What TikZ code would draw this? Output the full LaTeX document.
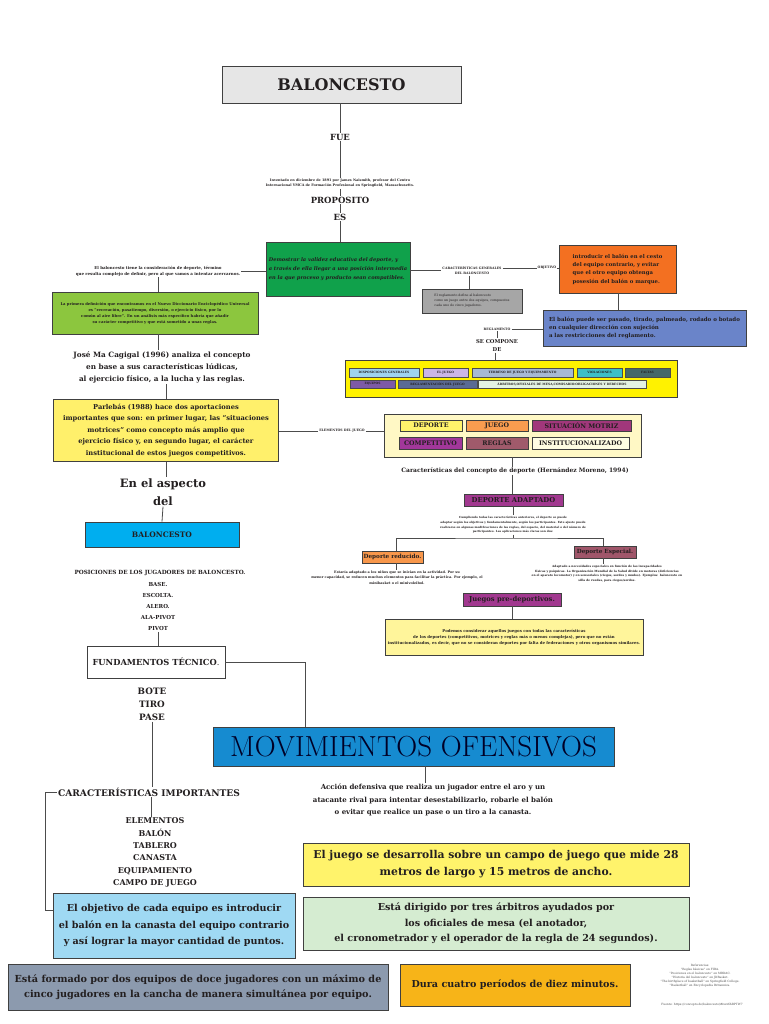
\documentclass[tikz,border=0pt]{standalone}
\usepackage{fontspec}
\setmainfont{DejaVu Serif}
\newfontfamily\lmr{Latin Modern Roman}
\newcommand\myfs[2]{\fontsize{#1}{#2}\selectfont}
\definecolor{tgray}{HTML}{E6E6E6}
\definecolor{greenA}{HTML}{10A14B}
\definecolor{limeA}{HTML}{8CC63E}
\definecolor{parlY}{HTML}{FFF06B}
\definecolor{cyanA}{HTML}{00AEEF}
\definecolor{movB}{HTML}{168BD0}
\definecolor{lblue}{HTML}{9FD9F3}
\definecolor{yelB}{HTML}{FFF36B}
\definecolor{grnB}{HTML}{D5ECD1}
\definecolor{gboxC}{HTML}{8C9AAE}
\definecolor{oboxC}{HTML}{F7B418}
\definecolor{orngC}{HTML}{F37021}
\definecolor{grayC}{HTML}{A6A6A6}
\definecolor{blueC}{HTML}{6A84C9}
\definecolor{yelC}{HTML}{FFF200}
\definecolor{bA}{HTML}{9FD3EF}
\definecolor{bB}{HTML}{CBB6E6}
\definecolor{bC}{HTML}{A7B9D3}
\definecolor{bD}{HTML}{3DBFC6}
\definecolor{bE}{HTML}{456868}
\definecolor{bF}{HTML}{7D5AA6}
\definecolor{bG}{HTML}{5A6A94}
\definecolor{bH}{HTML}{E4F3E4}
\definecolor{elemC}{HTML}{FFF8C5}
\definecolor{eJ}{HTML}{F99C4F}
\definecolor{eS}{HTML}{A1377B}
\definecolor{eC}{HTML}{A2379A}
\definecolor{eR}{HTML}{A05A6B}
\definecolor{eI}{HTML}{FFFDE2}
\definecolor{daC}{HTML}{A1388F}
\definecolor{drC}{HTML}{F8974B}
\definecolor{deC}{HTML}{A0566A}
\definecolor{podC}{HTML}{FFF59B}
\definecolor{ink}{HTML}{231F20}
\begin{document}
\begin{tikzpicture}[x=1pt,y=-1pt,
  box/.style={draw=black!75, line width=0.8pt, inner sep=1pt, align=center, text=ink, font=\bfseries},
  sbox/.style={draw=black!70, line width=0.6pt, inner sep=0.5pt, align=center, text=ink, font=\myfs{3}{4}\bfseries},
  ebox/.style={draw=black!75, line width=0.7pt, inner sep=0.5pt, align=center, text=ink, font=\myfs{6.3}{7}\bfseries},
  txt/.style={align=center, inner sep=1pt, text=ink},
  ln/.style={draw=black!70, line width=0.8pt}]
\useasboundingbox (0,0) rectangle (768,1024);
\fill[white] (0,0) rectangle (768,1024);

% ---- top spine
\node[box, fill=tgray, minimum width=239pt, minimum height=37pt, font=\myfs{16}{18}\bfseries] (title) at (341.5,84.5) {BALONCESTO};
\node[txt, font=\myfs{8.5}{10}\bfseries] (fue) at (340,137) {FUE};
\node[txt, font=\myfs{3.4}{5}\bfseries] (inv) at (340,183.5) {Inventado en diciembre de 1891 por James Naismith, profesor del Centro\\Internacional YMCA de Formación Profesional en Springfield, Massachusetts.};
\node[txt, font=\myfs{8.5}{10}\bfseries] (prop) at (340,200) {PROPOSITO};
\node[txt, font=\myfs{8.5}{10}\bfseries] (es) at (340,217) {ES};
\node[box, fill=greenA, minimum width=144pt, minimum height=54pt, align=left, font=\myfs{5.1}{9}\bfseries\itshape] (green) at (338,269) {Demostrar la validez educativa del deporte, y\\a través de ella  llegar a una posición intermedia\\en la que proceso y producto sean compatibles.};
\draw[ln] (title.south -| fue.north) -- (fue.north);
\draw[ln] (fue.south) -- (inv.north);
\draw[ln] (inv.south) -- (prop.north);
\draw[ln] (prop.south) -- (es.north);
\draw[ln] (es.south) -- (green.north -| es.south);

% ---- left column
\node[txt, font=\myfs{4}{6}\bfseries] (left) at (158,271) {El baloncesto tiene la consideración de deporte, término\\que resulta complejo de definir, pero al que vamos a intentar acercarnos.};
\draw[ln] (left.east) -- (left.east -| green.west);
\node[box, fill=limeA, minimum width=206pt, minimum height=42pt, font=\myfs{3.8}{6}\bfseries] (lime) at (155,313) {La primera definición que encontramos en el Nuevo Diccionario Enciclopédico Universal\\es "recreación, pasatiempo, diversión, o ejercicio físico, por lo\\común al aire libre". En un análisis más específico habría que añadir\\su carácter competitivo y que está sometido a unas reglas.};
\draw[ln] (left.south) -- (left.south |- lime.north);
\node[txt, font=\myfs{7.3}{12}\bfseries] (cag) at (162,367) {José Ma Cagigal (1996) analiza el concepto\\en base a sus características lúdicas,\\al ejercicio físico, a la lucha y las reglas.};
\draw[ln] (lime.south -| left.south) -- (cag.north -| left.south);
\node[box, fill=parlY, minimum width=225pt, minimum height=62pt, font=\myfs{6.7}{11.5}\bfseries] (parl) at (166,430.5) {Parlebás (1988) hace dos aportaciones\\importantes que son: en primer lugar, las "situaciones\\motrices" como concepto más amplio que\\ejercicio físico y, en segundo lugar, el carácter\\institucional de estos juegos competitivos.};
\draw[ln] (cag.south -| parl.north) -- (parl.north);
\node[txt, font=\myfs{11.5}{18}\bfseries] (asp) at (163,492) {En el aspecto\\del};
\draw[ln] (parl.south) -- (asp.north -| parl.south);
\node[box, fill=cyanA, minimum width=154pt, minimum height=25pt, font=\myfs{7.5}{9}\bfseries] (bal) at (162,534.5) {BALONCESTO};
\draw[ln] (asp.south) -- (bal.north);
\node[txt, font=\myfs{5.7}{7}\bfseries] (pos) at (160,573) {POSICIONES DE LOS JUGADORES DE BALONCESTO.};
\node[txt, font=\myfs{5.5}{11}\bfseries] (plist) at (158,606.5) {BASE.\\ESCOLTA.\\ALERO.\\ALA-PIVOT\\PIVOT};
\node[box, fill=white, minimum width=138pt, minimum height=32pt, font=\myfs{8.3}{10}\bfseries] (fund) at (156,662) {FUNDAMENTOS TÉCNICO{\mdseries .}};
\draw[ln] (plist.south) -- (fund.north -| plist.south);
\node[txt, font=\myfs{8.8}{13}\bfseries] (bote) at (152,704) {BOTE\\TIRO\\PASE};

% ---- movimientos
\node[box, fill=movB, minimum width=401pt, minimum height=39pt, font=\lmr\myfs{29}{30}, text=black!85!blue] (mov) at (413.5,746.5) {MOVIMIENTOS OFENSIVOS};
\coordinate (mtop) at (305,727);
\draw[ln] (fund.east) -| (mtop);
\node[txt, font=\myfs{7}{12.5}\bfseries] (acc) at (433,800) {Acción defensiva que realiza un jugador entre el aro y un\\atacante rival para intentar desestabilizarlo, robarle el balón\\o evitar que realice un pase o un tiro a la canasta.};
\draw[ln] (mov.south -| 425,0) -- (acc.north -| 425,0);

\node[txt, font=\myfs{9.1}{10}\bfseries] (car) at (149,792) {CARACTERÍSTICAS IMPORTANTES};
\draw[ln] (bote.south) -- (car.north -| bote.south);
\node[txt, font=\myfs{8}{12.3}\bfseries] (elem) at (155,852.5) {ELEMENTOS\\BALÓN\\TABLERO\\CANASTA\\EQUIPAMIENTO\\CAMPO DE JUEGO};
\draw[ln] (car.south -| 151,0) -- (elem.north -| 151,0);
\node[box, fill=lblue, minimum width=242pt, minimum height=65pt, font=\myfs{9.6}{16.5}\bfseries] (lb) at (174,925.5) {El objetivo de cada equipo es introducir\\el balón en la canasta del equipo contrario\\y así lograr la mayor cantidad de puntos.};
\coordinate (brk) at (45,792);
\coordinate (lbin) at (53,910);
\draw[ln] (car.west) -- (brk) |- (lbin);

\node[box, fill=yelB, minimum width=386pt, minimum height=43pt, font=\myfs{10.8}{17}\bfseries] (y2) at (496,864.5) {El juego se desarrolla sobre un campo de juego que mide 28\\metros de largo y 15 metros de ancho.};
\node[box, fill=grnB, minimum width=386pt, minimum height=53pt, font=\myfs{9.6}{15.5}\bfseries] (g2) at (496,923.5) {Está dirigido por tres árbitros ayudados por\\los oficiales de mesa (el anotador,\\el cronometrador y el operador de la regla de 24 segundos).};
\node[box, fill=gboxC, minimum width=380pt, minimum height=46pt, font=\myfs{9.7}{15}\bfseries] (gb) at (198,987) {Está formado por dos equipos de doce jugadores con un máximo de\\cinco jugadores en la cancha de manera simultánea por equipo.};
\node[box, fill=oboxC, minimum width=230pt, minimum height=42pt, font=\myfs{9.6}{11}\bfseries] (ob) at (515,985) {Dura cuatro períodos de diez minutos.};
\node[txt, font=\myfs{2.9}{4}, text=black!70] (refs) at (700,976) {Referencias:\\"Reglas básicas" en FIBA.\\"Posiciones en el baloncesto" en MBDAC.\\"Historia del baloncesto" en JDBasket.\\"The birthplace of basketball" en Springfield College.\\"Basketball" en Encyclopedia Britannica.};
\node[txt, font=\myfs{2.9}{4}, text=black!70] (fuente) at (702,1005) {Fuente: https://concepto.de/baloncesto/\#ixzz6hBPTW7};

% ---- right upper part
\node[txt, font=\myfs{3.2}{5}\bfseries] (cg) at (472,270.5) {CARACTERÍSTICAS GENERALES\\DEL BALONCESTO};
\node[txt, font=\myfs{3.2}{5}\bfseries] (obj) at (547,268) {OBJETIVO};
\node[box, fill=orngC, minimum width=117pt, minimum height=48pt, align=left, font=\myfs{5.3}{8.3}\bfseries] (orng) at (617.5,269) {introducir el balón en el cesto\\del equipo contrario, y evitar\\que el otro equipo obtenga\\posesión del balón o marque.};
\draw[ln] (green.east |- cg.west) -- (cg.west);
\draw[ln] (cg.east |- obj.west) -- (obj.west);
\draw[ln] (obj.east) -- (obj.east -| orng.west);
\node[box, fill=grayC, minimum width=100pt, minimum height=24pt, align=left, font=\myfs{3.2}{5}] (gr1) at (472,301) {El reglamento define al baloncesto\\como un juego entre dos equipos, compuestos\\cada uno de cinco jugadores.};
\draw[ln] (cg.south -| 469,0) -- (gr1.north -| 469,0);
\node[box, fill=blueC, minimum width=203pt, minimum height=36pt, align=left, font=\myfs{5.5}{8.3}\bfseries] (bl1) at (644.5,328) {El balón puede ser pasado, tirado, palmeado, rodado o botado\\en cualquier dirección con sujeción\\a las restricciones del reglamento.};
\draw[ln] (orng.south -| 618,0) -- (bl1.north -| 618,0);
\node[txt, font=\myfs{3.2}{5}\bfseries] (regl) at (497,329) {REGLAMENTO};
\draw[ln] (regl.east) -- (regl.east -| bl1.west);
\node[txt, font=\myfs{5.3}{8}\bfseries] (secomp) at (497,345.5) {SE COMPONE\\DE};
\draw[ln] (regl.south) -- (secomp.north);
\node[draw=black!75, line width=0.8pt, fill=yelC, minimum width=332pt, minimum height=37pt] (y3) at (511,378.5) {};
\draw[ln] (secomp.south -| 495,0) -- (y3.north -| 495,0);
\node[sbox, fill=bA, minimum width=70pt, minimum height=9pt] (s1) at (384,372.5) {DISPOSICIONES GENERALES};
\node[sbox, fill=bB, minimum width=45pt, minimum height=9pt] (s2) at (445.5,372.5) {EL JUEGO};
\node[sbox, fill=bC, minimum width=101pt, minimum height=9pt] (s3) at (522.5,372.5) {TERRENO DE JUEGO Y EQUIPAMIENTO};
\node[sbox, fill=bD, minimum width=45pt, minimum height=9pt] (s4) at (599.5,372.5) {VIOLACIONES};
\node[sbox, fill=bE, minimum width=45pt, minimum height=9pt] (s5) at (647.5,372.5) {FALTAS};
\node[sbox, fill=bF, minimum width=45pt, minimum height=8pt] (s6) at (372.5,384) {EQUIPOS};
\node[sbox, fill=bG, minimum width=79pt, minimum height=8pt] (s7) at (437.5,384) {REGLAMENTACIÓN DEL JUEGO};
\node[sbox, fill=bH, minimum width=168pt, minimum height=8pt] (s8) at (562,384) {ÁRBITROS,OFICIALES DE MESA,COMISARIO:OBLIGACIONES Y DERECHOS};

% ---- elementos del juego
\node[txt, font=\myfs{3.2}{5}\bfseries] (eltxt) at (342,431) {ELEMENTOS DEL JUEGO};
\node[draw=black!75, line width=0.8pt, fill=elemC, minimum width=257pt, minimum height=43pt] (ebx) at (512.5,435.5) {};
\draw[ln] (parl.east |- eltxt.west) -- (eltxt.west);
\draw[ln] (eltxt.east) -- (eltxt.east -| ebx.west);
\node[ebox, fill=yelB, minimum width=62pt, minimum height=11pt] (e1) at (431,425.5) {DEPORTE};
\node[ebox, fill=eJ, minimum width=62pt, minimum height=11pt] (e2) at (497,425.5) {JUEGO};
\node[ebox, fill=eS, minimum width=99pt, minimum height=11pt] (e3) at (581.5,425.5) {SITUACIÓN MOTRIZ};
\node[ebox, fill=eC, minimum width=63pt, minimum height=12pt] (e4) at (430.5,443) {COMPETITIVO};
\node[ebox, fill=eR, minimum width=62pt, minimum height=12pt] (e5) at (497,443) {REGLAS};
\node[ebox, fill=eI, minimum width=97pt, minimum height=12pt] (e6) at (580.5,443) {INSTITUCIONALIZADO};
\node[txt, font=\myfs{6}{7}\bfseries] (chr) at (515,471) {Características del concepto de deporte (Hernández Moreno, 1994)};
\draw[ln] (ebx.south -| 512,0) -- (chr.north -| 512,0);
\node[box, fill=daC, minimum width=99pt, minimum height=12pt, font=\myfs{6.8}{8}\bfseries] (da) at (513.5,500) {DEPORTE ADAPTADO};
\draw[ln] (chr.south -| 512,0) -- (da.north -| 512,0);
\node[txt, font=\myfs{2.8}{4.7}\bfseries] (dat) at (513,525) {Cumpliendo todas las características anteriores, el deporte se puede\\adaptar según los objetivos y fundamentalmente, según los participantes. Este ajuste puede\\realizarse en algunas modificaciones de las reglas, del espacio, del material o del número de\\participantes. Las aplicaciones más claras son dos:};
\draw[ln] (da.south -| 513,0) -- (dat.north -| 513,0);
\coordinate (br) at (513,538);
\draw[ln] (dat.south -| br) -- (br);
\node[box, fill=drC, minimum width=61pt, minimum height=12pt, font=\myfs{5.7}{7}\bfseries] (dr) at (392.5,557) {Deporte reducido.};
\node[box, fill=deC, minimum width=62pt, minimum height=12pt, font=\myfs{5.7}{7}\bfseries] (de) at (605,552) {Deporte Especial.};
\draw[ln] (dr.north -| 396,0) |- (br) -| (de.north -| 603,0);
\node[txt, font=\myfs{3.4}{5.3}\bfseries] (drt) at (397,577.5) {Estaría adaptado a los niños que se inician en la actividad. Por su\\menor capacidad, se reducen muchos elementos para facilitar la práctica. Por ejemplo, el\\minibasket o el minivoleibol.};
\draw[ln] (dr.south -| 396,0) -- (drt.north -| 396,0);
\node[txt, font=\myfs{2.9}{4.6}\bfseries] (det) at (607,573.5) {Adaptado a necesidades especiales en función de las incapacidades\\físicas y psíquicas. La Organización Mundial de la Salud divide en motoras (deficiencias\\en el aparato locomotor) y en sensoriales (ciegos, sordos y mudos). Ejemplos: baloncesto en\\silla de ruedas, para ciegos/sordos.};
\draw[ln] (de.south -| 603,0) -- (det.north -| 603,0);
\node[box, fill=daC, minimum width=98pt, minimum height=13pt, font=\myfs{6.8}{8}\bfseries] (jp) at (512,599.5) {Juegos pre-deportivos.};
\node[box, fill=podC, minimum width=258pt, minimum height=36pt, font=\myfs{3.9}{6}\bfseries] (pod) at (514,637) {Podemos considerar aquellos juegos con todas las características\\de los deportes (competitivos, motrices y reglas más o menos complejas), pero que no están\\institucionalizados, es decir, que no se consideran deportes por falta de federaciones y otros organismos similares.};
\draw[ln] (jp.south) -- (pod.north -| jp.south);
\end{tikzpicture}
\end{document}
